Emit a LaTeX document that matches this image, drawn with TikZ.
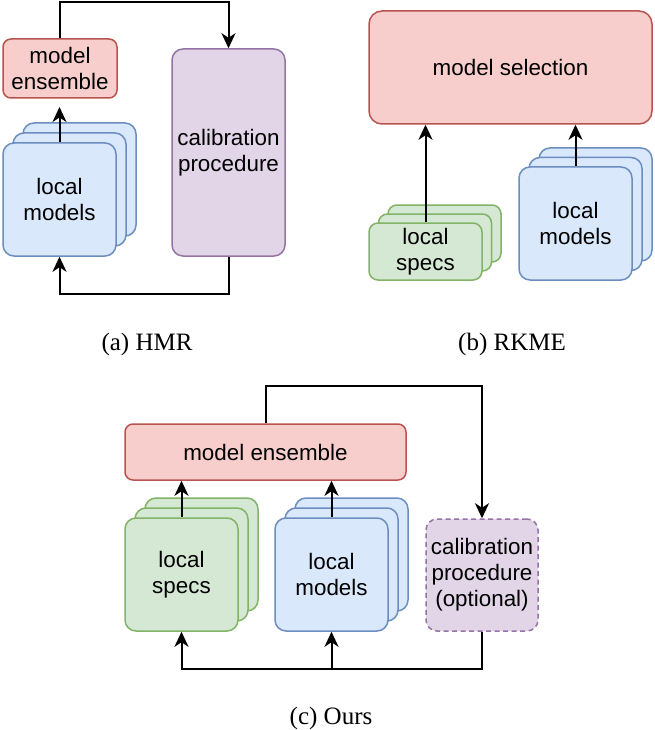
\documentclass[tikz,border=0pt]{standalone}
\usepackage{fontspec}
\setsansfont{Liberation Sans}
\newfontfamily\dgcapfont{Liberation Serif}
\usetikzlibrary{arrows.meta}
\definecolor{redf}{HTML}{F8CECC}
\definecolor{redd}{HTML}{B85450}
\definecolor{bluef}{HTML}{DAE8FC}
\definecolor{blued}{HTML}{6C8EBF}
\definecolor{greenf}{HTML}{D5E8D4}
\definecolor{greend}{HTML}{82B366}
\definecolor{purpf}{HTML}{E1D5E7}
\definecolor{purpd}{HTML}{9673A6}
\newcommand\dgboxfont{\sffamily\fontsize{22.4}{26}\selectfont}
\begin{document}
\begin{tikzpicture}[x=1pt,y=-1pt,
  box/.style={rectangle, rounded corners=11pt, line width=1.5pt, inner sep=0pt, align=center, font=\dgboxfont},
  redbox/.style={box, draw=redd, fill=redf},
  bluebox/.style={box, draw=blued, fill=bluef},
  greenbox/.style={box, draw=greend, fill=greenf},
  purpbox/.style={box, draw=purpd, fill=purpf},
  sq/.style={minimum width=113pt, minimum height=113pt},
  arr/.style={line width=2pt, -{Stealth[length=15pt, width=14pt, inset=4.5pt]}},
  captext/.style={font=\dgcapfont\fontsize{25}{30}\selectfont, anchor=base, inner sep=0pt}
]
\useasboundingbox[fill=white] (0,0) rectangle (654,730);

% ---------------- (a) HMR ----------------
\node[redbox, rounded corners=8pt, minimum width=114pt, minimum height=59pt] (ensA) at (60,68.5) {model\\ensemble};
\node[bluebox, sq] (modelsA3) at (79.5,179.5) {};
\node[bluebox, sq] (modelsA2) at (69.5,189.5) {};
\node[bluebox, sq] (modelsA) at (59.5,199.5) {local\\models};
\node[purpbox, minimum width=113pt, minimum height=207pt] (calA) at (228.5,152.5) {calibration\\procedure};
\coordinate (ensAin) at (59.5,107);
\draw[arr] (modelsA.north) -- (ensAin);
\draw[arr] (ensA.north) -- ++(0,-36) -| (calA.north);
\draw[arr] (calA.south) -- ++(0,37) -| (modelsA.south);
\node[captext] (capA) at (147,350) {(a) HMR};

% ---------------- (b) RKME ----------------
\node[redbox, rounded corners=13pt, minimum width=283pt, minimum height=113pt] (selB) at (510.5,67.5) {model selection};
\node[greenbox, rounded corners=9pt, minimum width=113pt, minimum height=57pt] (specsB3) at (444.5,233.5) {};
\node[greenbox, rounded corners=9pt, minimum width=113pt, minimum height=57pt] (specsB2) at (435,242.5) {};
\node[greenbox, rounded corners=9pt, minimum width=113pt, minimum height=57pt] (specsB) at (425.5,251.5) {local\\specs};
\node[bluebox, sq] (modelsB3) at (595.5,204.5) {};
\node[bluebox, sq] (modelsB2) at (585.5,214) {};
\node[bluebox, sq] (modelsB) at (575.5,223.5) {local\\models};
\draw[arr] (specsB.north) -- (specsB.north |- selB.south);
\draw[arr] (modelsB.north) -- (modelsB.north |- selB.south);
\node[captext] (capB) at (512,350) {(b) RKME};

% ---------------- (c) Ours ----------------
\node[redbox, rounded corners=8pt, minimum width=281pt, minimum height=56pt] (ensC) at (265.5,452) {model ensemble};
\node[greenbox, sq] (specsC3) at (201.5,554.5) {};
\node[greenbox, sq] (specsC2) at (191.5,564.5) {};
\node[greenbox, sq] (specsC) at (181.5,574.5) {local\\specs};
\node[bluebox, sq] (modelsC3) at (351.5,554.5) {};
\node[bluebox, sq] (modelsC2) at (341.5,564.5) {};
\node[bluebox, sq] (modelsC) at (331.5,574.5) {local\\models};
\node[purpbox, dash pattern=on 5pt off 3.5pt, minimum width=112pt, minimum height=112pt] (calC) at (482,575) {calibration\\procedure\\(optional)};
\draw[arr] (specsC.north) -- (specsC.north |- ensC.south);
\draw[arr] (modelsC.north) -- (modelsC.north |- ensC.south);
\draw[arr] (ensC.north) -- ++(0,-37) -| (calC.north);
\draw[arr] (calC.south) -- ++(0,37) coordinate (botC) -| (specsC.south);
\draw[arr] (botC -| modelsC.south) -- (modelsC.south);
\node[captext] (capC) at (331,724) {(c) Ours};
\end{tikzpicture}
\end{document}
